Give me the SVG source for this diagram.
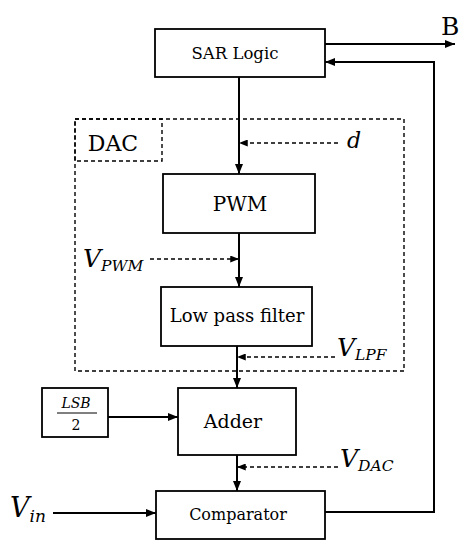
<svg xmlns="http://www.w3.org/2000/svg" width="474" height="555" viewBox="0 0 474 555">
<style>
.box{fill:#fff;stroke:#000;stroke-width:1.8}
.dbox{fill:none;stroke:#000;stroke-width:1.4;stroke-dasharray:4,3}
.w{fill:none;stroke:#000;stroke-width:2}
.d{fill:none;stroke:#000;stroke-width:1.6;stroke-dasharray:4,3}
.c{text-anchor:middle}
.i{font-style:italic}
</style>
<defs>
<marker id="ah" viewBox="0 0 10 8" refX="10" refY="4" markerWidth="10" markerHeight="8" markerUnits="userSpaceOnUse" orient="auto">
<path d="M0,0 L10,4 L0,8 Z" fill="#000"/>
</marker>
<marker id="ahs" viewBox="0 0 10 8" refX="10" refY="4" markerWidth="9" markerHeight="7" markerUnits="userSpaceOnUse" orient="auto">
<path d="M0,0 L10,4 L0,8 Z" fill="#000"/>
</marker>
</defs>
<g font-family="'DejaVu Serif', 'Liberation Serif', 'Times New Roman', serif" fill="#000">
<g id="dac">
<rect class="dbox" x="75" y="119" width="329" height="252"/>
<rect class="dbox" x="75" y="119" width="87" height="42"/>
<text x="113" y="151" class="c" font-size="22">DAC</text>
</g>
<g id="connectors">
<path class="w" d="M325,44 H455" marker-end="url(#ah)"/>
<path class="w" d="M325,512 H434 V62 H325" marker-end="url(#ah)"/>
<path class="w" d="M239,77 V174" marker-end="url(#ah)"/>
<path class="d" d="M338,143 H239" marker-end="url(#ahs)"/>
<path class="w" d="M239,233 V287" marker-end="url(#ah)"/>
<path class="d" d="M150,259 H239" marker-end="url(#ahs)"/>
<path class="w" d="M237,346 V388" marker-end="url(#ah)"/>
<path class="d" d="M335,357 H237" marker-end="url(#ahs)"/>
<path class="w" d="M108,417 H178" marker-end="url(#ah)"/>
<path class="w" d="M237,455 V491" marker-end="url(#ah)"/>
<path class="d" d="M338,467 H237" marker-end="url(#ahs)"/>
<path class="w" d="M53,513 H156" marker-end="url(#ah)"/>
</g>
<g id="sar">
<rect class="box" x="155" y="29" width="170" height="48"/>
<text x="235" y="59" class="c" font-size="16.5">SAR Logic</text>
</g>
<g id="pwm">
<rect class="box" x="163" y="174" width="152" height="59"/>
<text x="240" y="211" class="c" font-size="20">PWM</text>
</g>
<g id="lpf">
<rect class="box" x="161" y="287" width="151" height="59"/>
<text x="237" y="322" class="c" font-size="18">Low pass filter</text>
</g>
<g id="lsb">
<rect class="box" x="42" y="388" width="66" height="49"/>
<text x="76" y="408" class="c i" font-size="14">LSB</text>
<line x1="57" y1="413" x2="97" y2="413" stroke="#000" stroke-width="1"/>
<text x="76" y="430" class="c" font-size="14">2</text>
</g>
<g id="adder">
<rect class="box" x="178" y="388" width="118" height="67"/>
<text x="233" y="428" class="c" font-size="19">Adder</text>
</g>
<g id="comparator">
<rect class="box" x="156" y="491" width="169" height="48"/>
<text x="238" y="520" class="c" font-size="16">Comparator</text>
</g>
<g id="labels">
<text x="441" y="35" font-size="25">B</text>
<text x="347" y="148" class="i" font-size="22">d</text>
<text x="83" y="267" class="i" font-size="25">V<tspan font-size="15.5" dy="4">PWM</tspan></text>
<text x="337" y="356" class="i" font-size="25">V<tspan font-size="15.5" dy="4">LPF</tspan></text>
<text x="340" y="467" class="i" font-size="25">V<tspan font-size="15.5" dy="4">DAC</tspan></text>
<text x="10" y="517" class="i" font-size="27">V<tspan font-size="17" dy="5">in</tspan></text>
</g>
</g>
</svg>
